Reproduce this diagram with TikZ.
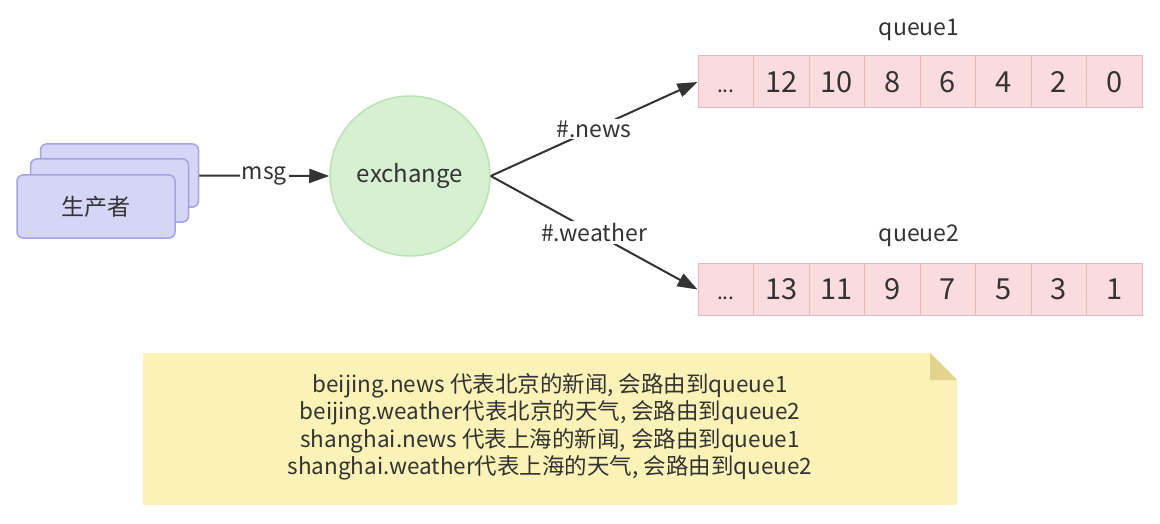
\documentclass[tikz,border=0pt]{standalone}
\usepackage{fontspec}
\setmainfont{Noto Sans CJK SC}
\usetikzlibrary{arrows.meta}
\definecolor{ink}{HTML}{333333}
\definecolor{prodfill}{HTML}{D5D5F8}
\definecolor{prodline}{HTML}{A3A3E2}
\definecolor{exfill}{HTML}{D8F0D2}
\definecolor{exline}{HTML}{BBE2B2}
\definecolor{qfill}{HTML}{FADBDE}
\definecolor{qline}{HTML}{E8B8BE}
\definecolor{notefill}{HTML}{FAF2B6}
\definecolor{notefold}{HTML}{E2D38F}
\newcommand{\qdots}{\vphantom{0}{\fontsize{21}{21}\selectfont ...}}

\begin{document}
\begin{tikzpicture}[x=1pt, y=-1pt,
  font=\fontsize{23}{26}\selectfont, text=ink,
  prod/.style={rounded corners=6pt, draw=prodline, line width=1.5pt, fill=prodfill, minimum width=158pt, minimum height=63pt},
  exch/.style={circle, draw=exline, line width=1.5pt, fill=exfill, minimum size=160pt, inner sep=0pt, font=\fontsize{24}{26}\selectfont},
  cell/.style={draw=qline, line width=1pt, fill=qfill, minimum width=55.5pt, minimum height=52pt, inner sep=0pt, font=\fontsize{29}{32}\selectfont},
  lbl/.style={fill=white, inner sep=2pt},
  arrow/.style={-{Triangle[length=20pt, width=14pt]}, line width=2pt, draw=ink},
]
\useasboundingbox (0,0) rectangle (1160,524);

% producers
\node[prod] (p3) at (119.5,175.5) {};
\node[prod] (p2) at (109.5,190.5) {};
\node[prod] (p1) at (96,206.5) {生产者};

% exchange
\node[exch] (ex) at (410,176) {exchange};
\draw[arrow] (p3.east) -- node[lbl] {msg} (ex.west);

% queues
\node (qalbl) at (919,30) {queue1};
\node (qblbl) at (919,236) {queue2};
\foreach \v [count=\i] in {\qdots,12,10,8,6,4,2,0}
  \node[cell] (qa\i) at ({698+27.75+55.5*(\i-1)},82) {\v};
\foreach \v [count=\i] in {\qdots,13,11,9,7,5,3,1}
  \node[cell] (qb\i) at ({698+27.75+55.5*(\i-1)},289.5) {\v};

\draw[arrow] (ex.east) -- node[lbl] {\#.news} (qa1.west);
\draw[arrow] (ex.east) -- node[lbl] {\#.weather} (qb1.west);

% note
\fill[notefill] (143,353) -- (930,353) -- (957,380) -- (957,505) -- (143,505) -- cycle;
\fill[notefold] (930,353) -- (957,380) -- (930,380) -- cycle;
\node[align=center, font=\fontsize{22.5}{27.5}\selectfont] (note) at (550,427)
  {beijing.news 代表北京的新闻, 会路由到queue1\\
   beijing.weather代表北京的天气, 会路由到queue2\\
   shanghai.news 代表上海的新闻, 会路由到queue1\\
   shanghai.weather代表上海的天气, 会路由到queue2};
\end{tikzpicture}
\end{document}
